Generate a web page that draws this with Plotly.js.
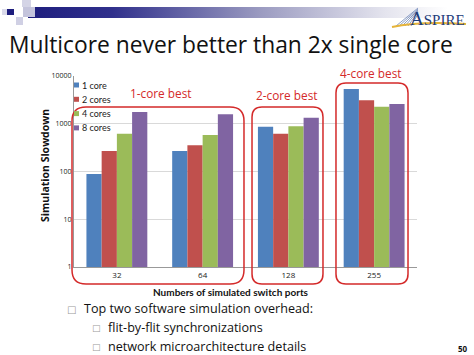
<!DOCTYPE html>
<html><head><meta charset="utf-8">
<script src="https://cdn.plot.ly/plotly-3.0.1.min.js"></script>
<style>html,body{margin:0;padding:0;background:#fff;}#chart{width:474px;height:355px;}</style>
</head><body><div id="chart"></div>
<script>
const categories = ['32', '64', '128', '255'];
const seriesNames = ['1 core', '2 cores', '4 cores', '8 cores'];
const core1 = [89, 270, 870, 5350];
const core2 = [270, 355, 620, 3100];
const core4 = [615, 580, 885, 2270];
const core8 = [1770, 1580, 1340, 2600];
const yTickVals = [1, 10, 100, 1000, 10000];
const yTickText = ['1', '10', '100', '1000', '10000'];
const colors = ['#4F81BD', '#C0504D', '#9BBB59', '#8064A2'];

const W = 474, H = 355;
const L = 74, R = 417, T = 76, B = 267;
const xp = px => (px - L) / (R - L);
const yp = py => (B - py) / (B - T);

function roundRect(x0, y0, x1, y1, r) {
  const P = (x, y) => xp(x).toFixed(4) + ',' + yp(y).toFixed(4);
  return 'M' + P(x0 + r, y0) + ' L' + P(x1 - r, y0) + ' Q' + P(x1, y0) + ' ' + P(x1, y0 + r) +
    ' L' + P(x1, y1 - r) + ' Q' + P(x1, y1) + ' ' + P(x1 - r, y1) +
    ' L' + P(x0 + r, y1) + ' Q' + P(x0, y1) + ' ' + P(x0, y1 - r) +
    ' L' + P(x0, y0 + r) + ' Q' + P(x0, y0) + ' ' + P(x0 + r, y0) + ' Z';
}

const values = [core1, core2, core4, core8];
const traces = values.map((v, i) => ({
  type: 'bar', x: categories, y: v, name: seriesNames[i],
  marker: {color: colors[i]}, showlegend: false
}));

const headerSvg = `<svg xmlns="http://www.w3.org/2000/svg" width="${W}" height="${H}" viewBox="0 0 ${W} ${H}">
<defs><linearGradient id="g" x1="0" x2="1" y1="0" y2="0">
<stop offset="0" stop-color="#1e1e7e"/><stop offset="0.2" stop-color="#30308c"/>
<stop offset="0.55" stop-color="#9a9ac0"/><stop offset="0.85" stop-color="#e4e4ee"/><stop offset="1" stop-color="#ffffff"/></linearGradient></defs>
<rect x="28" y="7" width="420" height="11" fill="url(#g)"/>
<rect x="22" y="0" width="9" height="7" fill="#d4d4e6"/>
<rect x="23" y="7" width="12" height="10" fill="#c4c4dc"/>
<rect x="16" y="17" width="7" height="8" fill="#d0d0e4"/>
<rect x="2" y="9" width="5" height="6" fill="#dadaea"/>
<rect x="7" y="9" width="7" height="6" fill="#1e1e7e"/>
<g stroke="#6f86b8" stroke-width="0.8">
<line x1="396" y1="26" x2="418" y2="8"/><line x1="399" y1="26" x2="418" y2="9"/>
<line x1="402" y1="26" x2="418" y2="10"/><line x1="405" y1="26" x2="418" y2="11"/>
<line x1="408" y1="26" x2="418" y2="12"/><line x1="411" y1="26" x2="418" y2="14"/>
</g>
<path d="M392 27 Q420 21 466 24" stroke="#e6b43a" stroke-width="2" fill="none"/>
</svg>`;

const redLine = {color: '#d42a2a', width: 1.5};
const shapes = [
  {type: 'path', xref: 'paper', yref: 'paper', path: roundRect(72, 107, 244, 284, 14), line: redLine},
  {type: 'path', xref: 'paper', yref: 'paper', path: roundRect(252, 107, 323, 284, 10), line: redLine},
  {type: 'path', xref: 'paper', yref: 'paper', path: roundRect(336, 83, 408, 284, 10), line: redLine}
];

function ann(text, x, y, opts) {
  return Object.assign({text: text, xref: 'paper', yref: 'paper', x: xp(x), y: yp(y),
    showarrow: false, xanchor: 'center', yanchor: 'middle'}, opts);
}
const red = {family: 'Open Sans, sans-serif', size: 11.8, color: '#d42a2a'};
const bulletFont = {family: 'Open Sans, sans-serif', size: 12.6, color: '#111'};
const annotations = [
  ann('Multicore never better than 2x single core', 231, 44, {font: {family: 'Open Sans, sans-serif', size: 22.8, color: '#111'}}),
  ann('<span style="font-size:19px">A</span>SPIRE', 437, 18, {font: {family: 'Liberation Serif, serif', size: 15, color: '#1f3d7a'}}),
  ann('1-core best', 160, 93, {font: red}),
  ann('2-core best', 286, 95, {font: red}),
  ann('4-core best', 370, 73, {font: red}),
  ann('<b>Numbers of simulated switch ports</b>', 231, 292, {font: {family: 'Lato, sans-serif', size: 10, color: '#111'}}),
  ann('<b>Simulation Slowdown</b>', 45, 166, {textangle: -90, font: {family: 'Open Sans, sans-serif', size: 10.5, color: '#111'}}),
  ann('\u25A1', 71, 309, {font: {family: 'DejaVu Sans, sans-serif', size: 10, color: '#999'}}),
  ann('Top two software simulation overhead:', 82, 308, {xanchor: 'left', font: bulletFont}),
  ann('\u25A1', 96, 328, {font: {family: 'DejaVu Sans, sans-serif', size: 9, color: '#999'}}),
  ann('flit-by-flit synchronizations', 106, 327, {xanchor: 'left', font: bulletFont}),
  ann('\u25A1', 96, 347, {font: {family: 'DejaVu Sans, sans-serif', size: 9, color: '#999'}}),
  ann('network microarchitecture details', 106, 346, {xanchor: 'left', font: bulletFont}),
  ann('<b>50</b>', 463, 348, {font: {family: 'Open Sans, sans-serif', size: 8, color: '#111'}})
];

// custom compact legend (squares + labels) matching the reference
seriesNames.forEach((name, i) => {
  const cy = 85 + i * 14.3;
  shapes.push({type: 'rect', xref: 'paper', yref: 'paper', x0: xp(74), x1: xp(79), y0: yp(cy + 2.5), y1: yp(cy - 2.5),
    fillcolor: colors[i], line: {width: 0}});
  annotations.push(ann(name, 80, cy, {xanchor: 'left', font: {family: 'Lato, sans-serif', size: 9, color: '#222'}}));
});

const layout = {
  width: W, height: H,
  margin: {l: L, r: W - R, t: T, b: H - B, pad: 0},
  paper_bgcolor: '#ffffff', plot_bgcolor: 'rgba(0,0,0,0)',
  barmode: 'group', bargap: 0.29, bargroupgap: 0,
  showlegend: false,
  xaxis: {type: 'category', showgrid: false, showline: true, linecolor: '#999', linewidth: 1,
    ticks: '', tickfont: {family: 'Open Sans, sans-serif', size: 8, color: '#222'}, fixedrange: true},
  yaxis: {type: 'log', range: [0, 4], tickvals: yTickVals, ticktext: yTickText,
    showgrid: true, gridcolor: '#d9d9d9', gridwidth: 1, showline: true, linecolor: '#999', linewidth: 1,
    ticks: '', zeroline: false, tickfont: {family: 'Open Sans, sans-serif', size: 7, color: '#222'}, fixedrange: true},
  shapes: shapes,
  annotations: annotations,
  images: [{source: 'data:image/svg+xml;charset=utf-8,' + encodeURIComponent(headerSvg),
    xref: 'paper', yref: 'paper', x: xp(0), y: yp(0), sizex: W / (R - L), sizey: H / (B - T),
    xanchor: 'left', yanchor: 'top', sizing: 'stretch', layer: 'below'}]
};
Plotly.newPlot('chart', traces, layout, {displayModeBar: false, staticPlot: true});
</script></body></html>
